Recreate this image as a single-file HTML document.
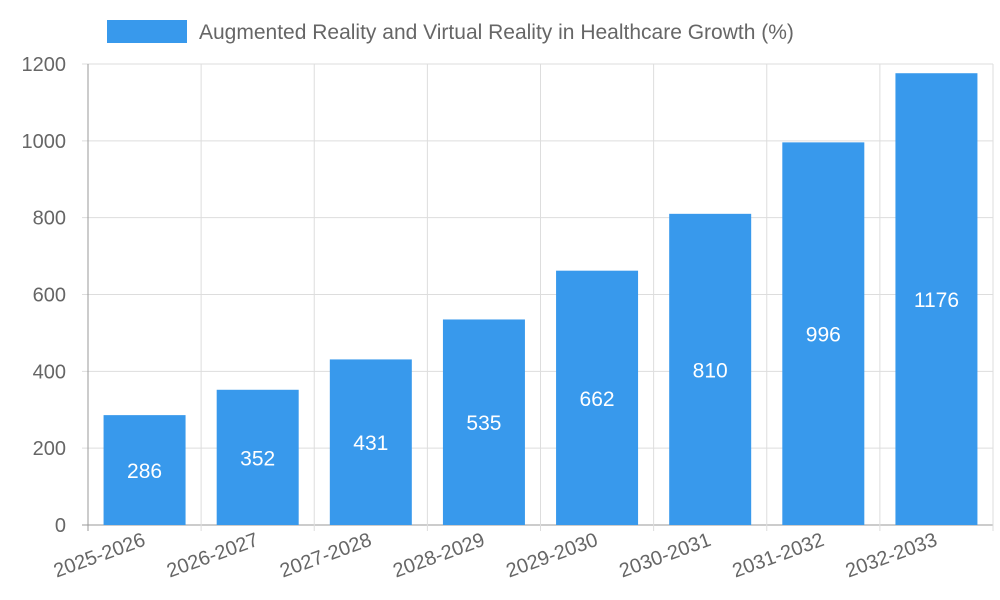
<!DOCTYPE html>
<html><head><meta charset="utf-8"><style>
body{margin:0;background:#fff;}
svg{display:block;font-family:"Liberation Sans",sans-serif;}
</style></head><body>
<svg id="chart" width="1000" height="600" viewBox="0 0 1000 600">
<g id="grid"></g>
<g id="bars"></g>
<g id="axes"></g>
<g>
<rect x="107" y="20" width="80" height="23" fill="#3899ec"/>
<text x="199" y="39" font-size="21" fill="#666">Augmented Reality and Virtual Reality in Healthcare Growth (%)</text>
</g>
</svg>
<script>
const categories=["2025-2026","2026-2027","2027-2028","2028-2029","2029-2030","2030-2031","2031-2032","2032-2033"];
const values=[286,352,431,535,662,810,996,1176];
const yTicks=[0,200,400,600,800,1000,1200];
const NS="http://www.w3.org/2000/svg";
const L=88,R=993,T=64,B=525,YMAX=1200;
const bw=(R-L)/categories.length;
const y=v=>B-(v/YMAX)*(B-T);
const x=i=>L+bw*i;
function mk(tag,attrs,parent,txt){const e=document.createElementNS(NS,tag);for(const k in attrs)e.setAttribute(k,attrs[k]);if(txt!==undefined)e.textContent=txt;parent.appendChild(e);return e;}
const grid=document.getElementById('grid'),bars=document.getElementById('bars'),axes=document.getElementById('axes');
yTicks.forEach(t=>{
  const g=mk('line',{x1:L-6,x2:R,y1:y(t),y2:y(t),stroke:t===0?'#999':'#ddd','stroke-width':1},grid);
  
  
  const lb=mk('text',{x:66,y:y(t)+7,'text-anchor':'end','font-size':20,fill:'#666'},axes,t);
  
  
});
for(let i=0;i<=categories.length;i++){
  const g=mk('line',{x1:x(i),x2:x(i),y1:T,y2:B+6,stroke:i===0?'#999':'#ddd','stroke-width':1},grid);
  
  
}
categories.forEach((c,i)=>{
  const cx=x(i)+bw/2,w=82;
  const r=mk('rect',{x:cx-w/2,y:y(values[i]),width:w,height:B-y(values[i]),fill:'#3899ec'},bars);
  
  
  const v=mk('text',{x:cx,y:(y(values[i])+B)/2+8,'text-anchor':'middle','font-size':21,fill:'#fff'},bars,values[i]);
  
  
  const lb=mk('text',{x:0,y:0,'text-anchor':'end','font-size':20,fill:'#666',transform:`translate(${cx+2},${545}) rotate(-20)`},axes,c);
  
  
});
</script>
</body></html>
